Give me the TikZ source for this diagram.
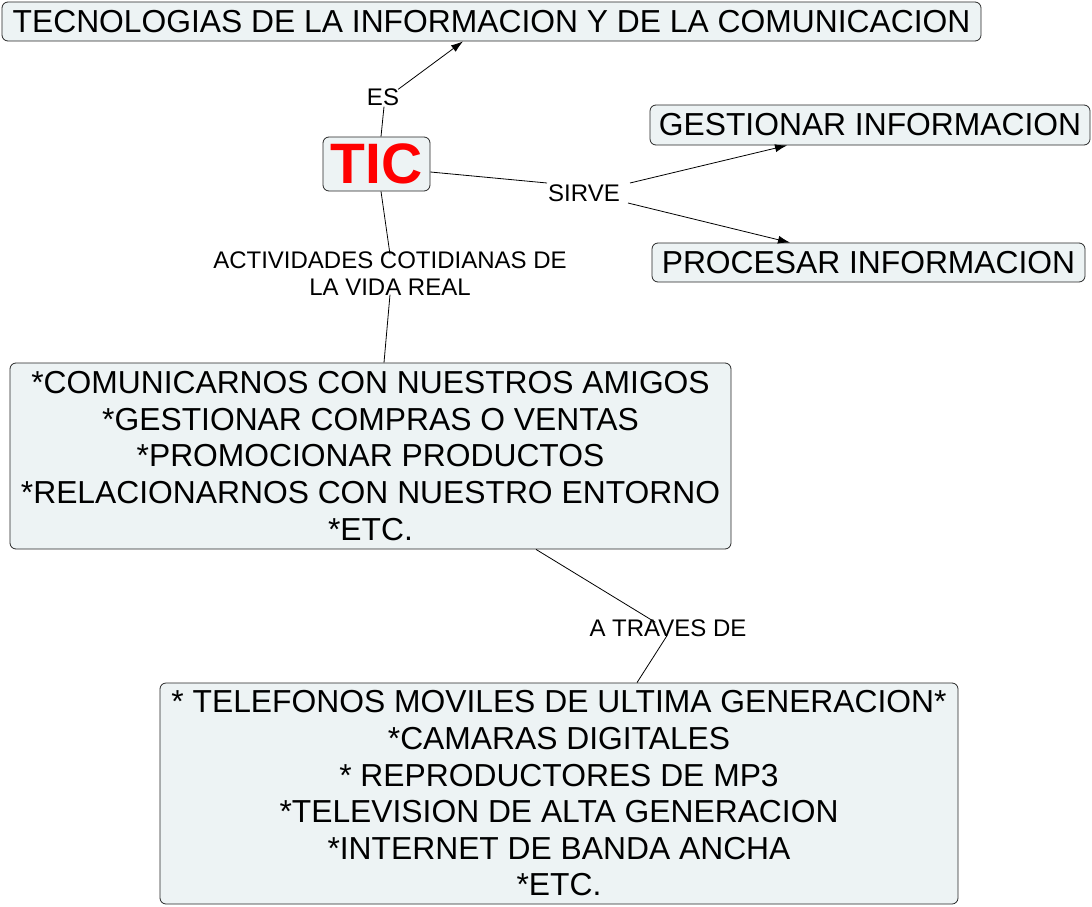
\documentclass[tikz,border=0pt]{standalone}
\usepackage{fontspec}
\setmainfont{Liberation Sans}
\usetikzlibrary{calc,arrows.meta}
\definecolor{boxfill}{HTML}{EDF3F4}
\definecolor{ticred}{HTML}{FF0000}
\tikzset{
  concept/.style={draw=black!85, fill=boxfill, rounded corners=6pt, line width=0.8pt, inner sep=0pt, align=center, font=\fontsize{31.8}{36.6}\selectfont},
  lbl/.style={inner sep=1pt, align=center, font=\fontsize{24}{27}\selectfont},
  link/.style={draw=black, line width=0.8pt},
  arr/.style={link, -{Latex[length=12pt,width=8pt]}}
}
\begin{document}
\begin{tikzpicture}[x=1pt,y=-1pt]
\useasboundingbox (0,0) rectangle (1092,907);
\node[concept, minimum width=979pt, minimum height=39pt] (top) at (491.5,21.5) {TECNOLOGIAS DE LA INFORMACION Y DE LA COMUNICACION};
\node[concept, minimum width=107pt, minimum height=54pt, font=\fontsize{57}{60}\selectfont\bfseries, text=ticred] (tic) at (376.5,164) {TIC};
\node[concept, minimum width=440pt, minimum height=40pt] (gest) at (870,125) {GESTIONAR INFORMACION};
\node[concept, minimum width=433pt, minimum height=39pt] (proc) at (868.5,262.5) {PROCESAR INFORMACION};
\node[concept, minimum width=721pt, minimum height=186pt] (mid) at (370.5,456) {*COMUNICARNOS CON NUESTROS AMIGOS\\*GESTIONAR COMPRAS O VENTAS\\*PROMOCIONAR PRODUCTOS\\*RELACIONARNOS CON NUESTRO ENTORNO\\*ETC.};
\node[concept, minimum width=798pt, minimum height=221pt] (bot) at (559,793.5) {* TELEFONOS MOVILES DE ULTIMA GENERACION*\\*CAMARAS DIGITALES\\* REPRODUCTORES DE MP3\\*TELEVISION DE ALTA GENERACION\\*INTERNET DE BANDA ANCHA\\*ETC.};
\node[lbl] (es) at (383,97) {ES};
\node[lbl] (sirve) at (584,193) {SIRVE};
\node[lbl] (act) at (390,273.5) {ACTIVIDADES COTIDIANAS DE\\LA VIDA REAL};
\node[lbl] (atr) at (668,628) {A TRAVES DE};
% ES
\draw[link] ($(tic.north)+(4.5,0)$) -- ($(es.south)+(1,0)$);
\draw[arr] ($(es.north east)+(-2,2)$) -- ($(top.south)+(-28.5,0)$);
% SIRVE
\draw[link] ($(tic.east)+(0,8)$) -- ($(sirve.west)+(0,-10)$);
\draw[arr] ($(sirve.east)+(9,-10)$) -- ($(gest.south)+(-83,0)$);
\draw[arr] ($(sirve.east)+(7,10)$) -- ($(proc.north)+(-78.5,0)$);
% ACTIVIDADES
\draw[link] ($(tic.south)+(4.5,0)$) -- ($(act.north)+(0,4)$);
\draw[link] ($(act.south)+(0,-2)$) -- ($(mid.north)+(13.5,0)$);
% A TRAVES DE
\draw[link] ($(mid.south)+(165.5,0)$) -- ($(atr.north west)+(67,4)$);
\draw[link] ($(atr.south)+(-1,-2)$) -- ($(bot.north)+(78,0)$);
\end{tikzpicture}
\end{document}
